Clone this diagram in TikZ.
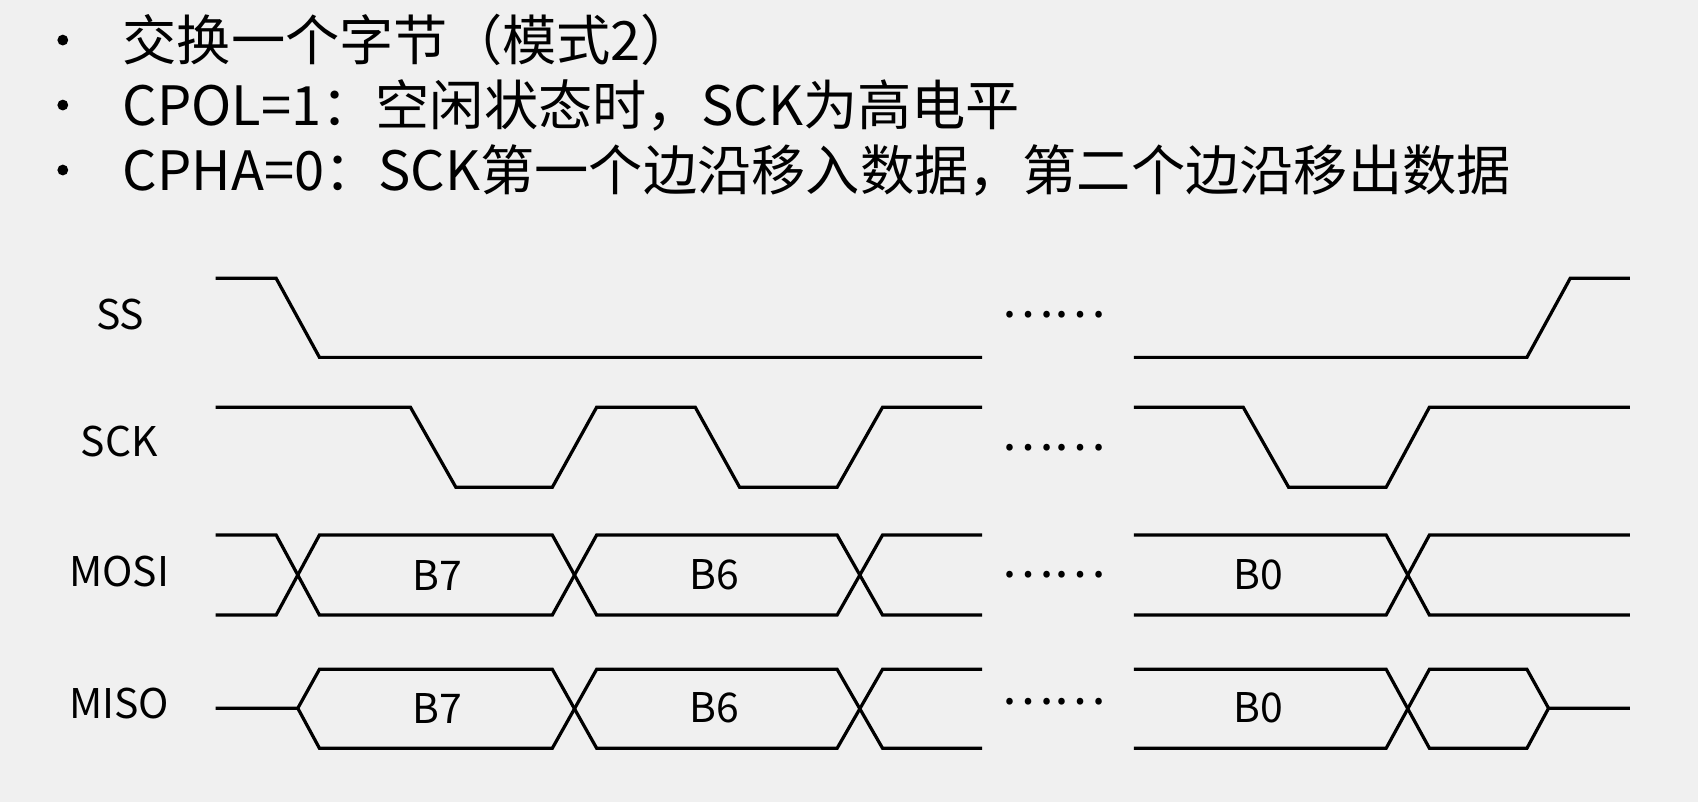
\documentclass[tikz,border=0pt]{standalone}
\usepackage{fontspec}
\setmainfont{Noto Sans CJK SC}
\begin{document}
\begin{tikzpicture}[x=0.02cm,y=-0.02cm,
  wave/.style={line width=1.7pt,line join=miter,black},
  lbl/.style={font=\fontsize{21.5}{24}\selectfont},
  ttl/.style={font=\fontsize{28.5}{32}\selectfont,anchor=west,inner sep=0}]
\fill[fill={rgb,255:red,240;green,240;blue,240}] (0,0) rectangle (1568,741);
\useasboundingbox (0,0) rectangle (1568,741);
% title
\foreach \y/\t [count=\i] in {37/交换一个字节（模式2）,97/CPOL=1：空闲状态时，SCK为高电平,157/CPHA=0：SCK第一个边沿移入数据，第二个边沿移出数据}{
  \fill (58,\y) circle (5) coordinate (b\i);
  \node[ttl] (t\i) at (113,\y) {\t};
}
% labels
\node[lbl] (lss) at (111,290) {SS};
\node[lbl] (lsck) at (110,408) {SCK};
\node[lbl] (lmosi) at (110,528) {MOSI};
\node[lbl] (lmiso) at (110,650) {MISO};
\foreach \y/\n in {291/a,413/b,531/c,648/d}\node[lbl,font=\fontsize{26}{26}\selectfont] (dots\n) at (973,\y) {……};
% SS
\draw[wave] (199,257)--(255,257)--(295,330)--(907,330);
\draw[wave] (1047,330)--(1410,330)--(1450,257)--(1505,257);
% SCK
\draw[wave] (199,376)--(379,376)--(421,450)--(510,450)--(551,376)--(642,376)--(683,450)--(773,450)--(815,376)--(907,376);
\draw[wave] (1047,376)--(1148,376)--(1190,450)--(1280,450)--(1320,376)--(1505,376);
% MOSI
\def\T{494}\def\B{568}
\draw[wave] (199,\T)--(255,\T)--(295,\B)--(510,\B)--(551,\T)--(773,\T)--(815,\B)--(907,\B);
\draw[wave] (199,\B)--(255,\B)--(295,\T)--(510,\T)--(551,\B)--(773,\B)--(815,\T)--(907,\T);
\draw[wave] (1047,\T)--(1280,\T)--(1320,\B)--(1505,\B);
\draw[wave] (1047,\B)--(1280,\B)--(1320,\T)--(1505,\T);
\node[lbl] (m7) at (404,531) {B7};
\node[lbl] (m6) at (660,531) {B6};
\node[lbl] (m0) at (1162,531) {B0};
% MISO
\def\T{618}\def\B{691}\def\M{654}
\draw[wave] (199,\M)--(275,\M)--(295,\T)--(510,\T)--(551,\B)--(773,\B)--(815,\T)--(907,\T);
\draw[wave] (275,\M)--(295,\B)--(510,\B)--(551,\T)--(773,\T)--(815,\B)--(907,\B);
\draw[wave] (1047,\T)--(1280,\T)--(1320,\B)--(1410,\B)--(1430,\M)--(1505,\M);
\draw[wave] (1047,\B)--(1280,\B)--(1320,\T)--(1410,\T)--(1430,\M);
\node[lbl] (s7) at (404,654) {B7};
\node[lbl] (s6) at (660,654) {B6};
\node[lbl] (s0) at (1162,654) {B0};
\end{tikzpicture}
\end{document}
